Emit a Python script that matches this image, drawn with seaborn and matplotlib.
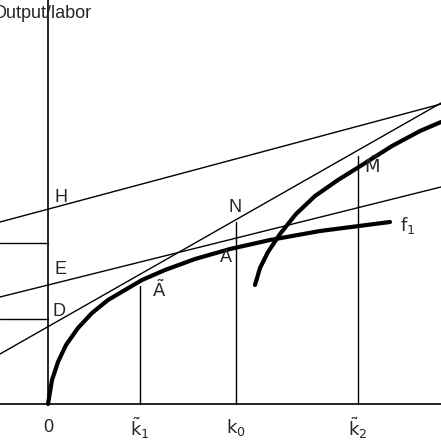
import matplotlib
matplotlib.use("Agg")
import matplotlib.pyplot as plt
import seaborn as sns

sns.set_theme(style="white")
plt.rcParams['font.family'] = ['Liberation Sans', 'DejaVu Sans']

# coordinates in picture units (y grows downward)
f1_x = [48, 52, 58, 66, 78, 92, 108, 125, 142, 165, 195, 230, 270, 320, 390]
f1_y = [404, 380, 362, 345, 328, 313, 300, 290, 280, 270, 259, 249, 240, 231, 222]
f2_x = [255, 260, 268, 280, 296, 315, 338, 362, 392, 420, 441]
f2_y = [285, 268, 252, 234, 214, 196, 180, 165, 146, 131, 122]
line_h = ([0, 441], [222, 104])
line_d = ([0, 441], [354, 103])
line_e = ([0, 441], [297, 187])
verticals = {140: 286, 236: 222, 358: 156}
stubs = [243, 319]
tick_x = [48, 140, 236, 358]
tick_labels = ["0", r"$\tilde{\mathrm{k}}_1$", r"$\mathrm{k}_0$", r"$\tilde{\mathrm{k}}_2$"]

fig = plt.figure(figsize=(4.41, 4.41), dpi=100)
ax = fig.add_axes([0, 0, 1, 1])
ax.set_xlim(0, 441)
ax.set_ylim(441, 0)
ax.axis("off")

sns.lineplot(x=f1_x, y=f1_y, ax=ax, color="black", lw=3, sort=False)
sns.lineplot(x=f2_x, y=f2_y, ax=ax, color="black", lw=3, sort=False)
for xs, ys in [line_h, line_d, line_e]:
    ax.plot(xs, ys, color="black", lw=1)
for x, top in verticals.items():
    ax.plot([x, x], [404, top], color="black", lw=1)
for y in stubs:
    ax.plot([0, 48], [y, y], color="black", lw=1)
ax.plot([0, 441], [404, 404], color="black", lw=1.2)
ax.plot([48, 48], [404, 0], color="black", lw=1.2)

for x, lab in zip(tick_x, tick_labels):
    ax.text(x, 428, lab, ha="center", va="center", fontsize=13)

ax.text(-8, 14, "Output/labor", ha="left", va="center", fontsize=13)
ax.text(54, 198, "H", fontsize=13, va="center")
ax.text(54, 270, "E", fontsize=13, va="center")
ax.text(52, 312, "D", fontsize=13, va="center")
ax.text(229, 208, "N", fontsize=13, va="center")
ax.text(220, 258, "A", fontsize=13, va="center")
ax.text(152, 290, r"$\tilde{\mathrm{A}}$", fontsize=13, va="center")
ax.text(364, 166, r"$\tilde{\mathrm{M}}$", fontsize=13, va="center")
ax.text(400, 226, r"$\mathrm{f}_1$", fontsize=13, va="center")

fig.savefig("out.png", dpi=100)
